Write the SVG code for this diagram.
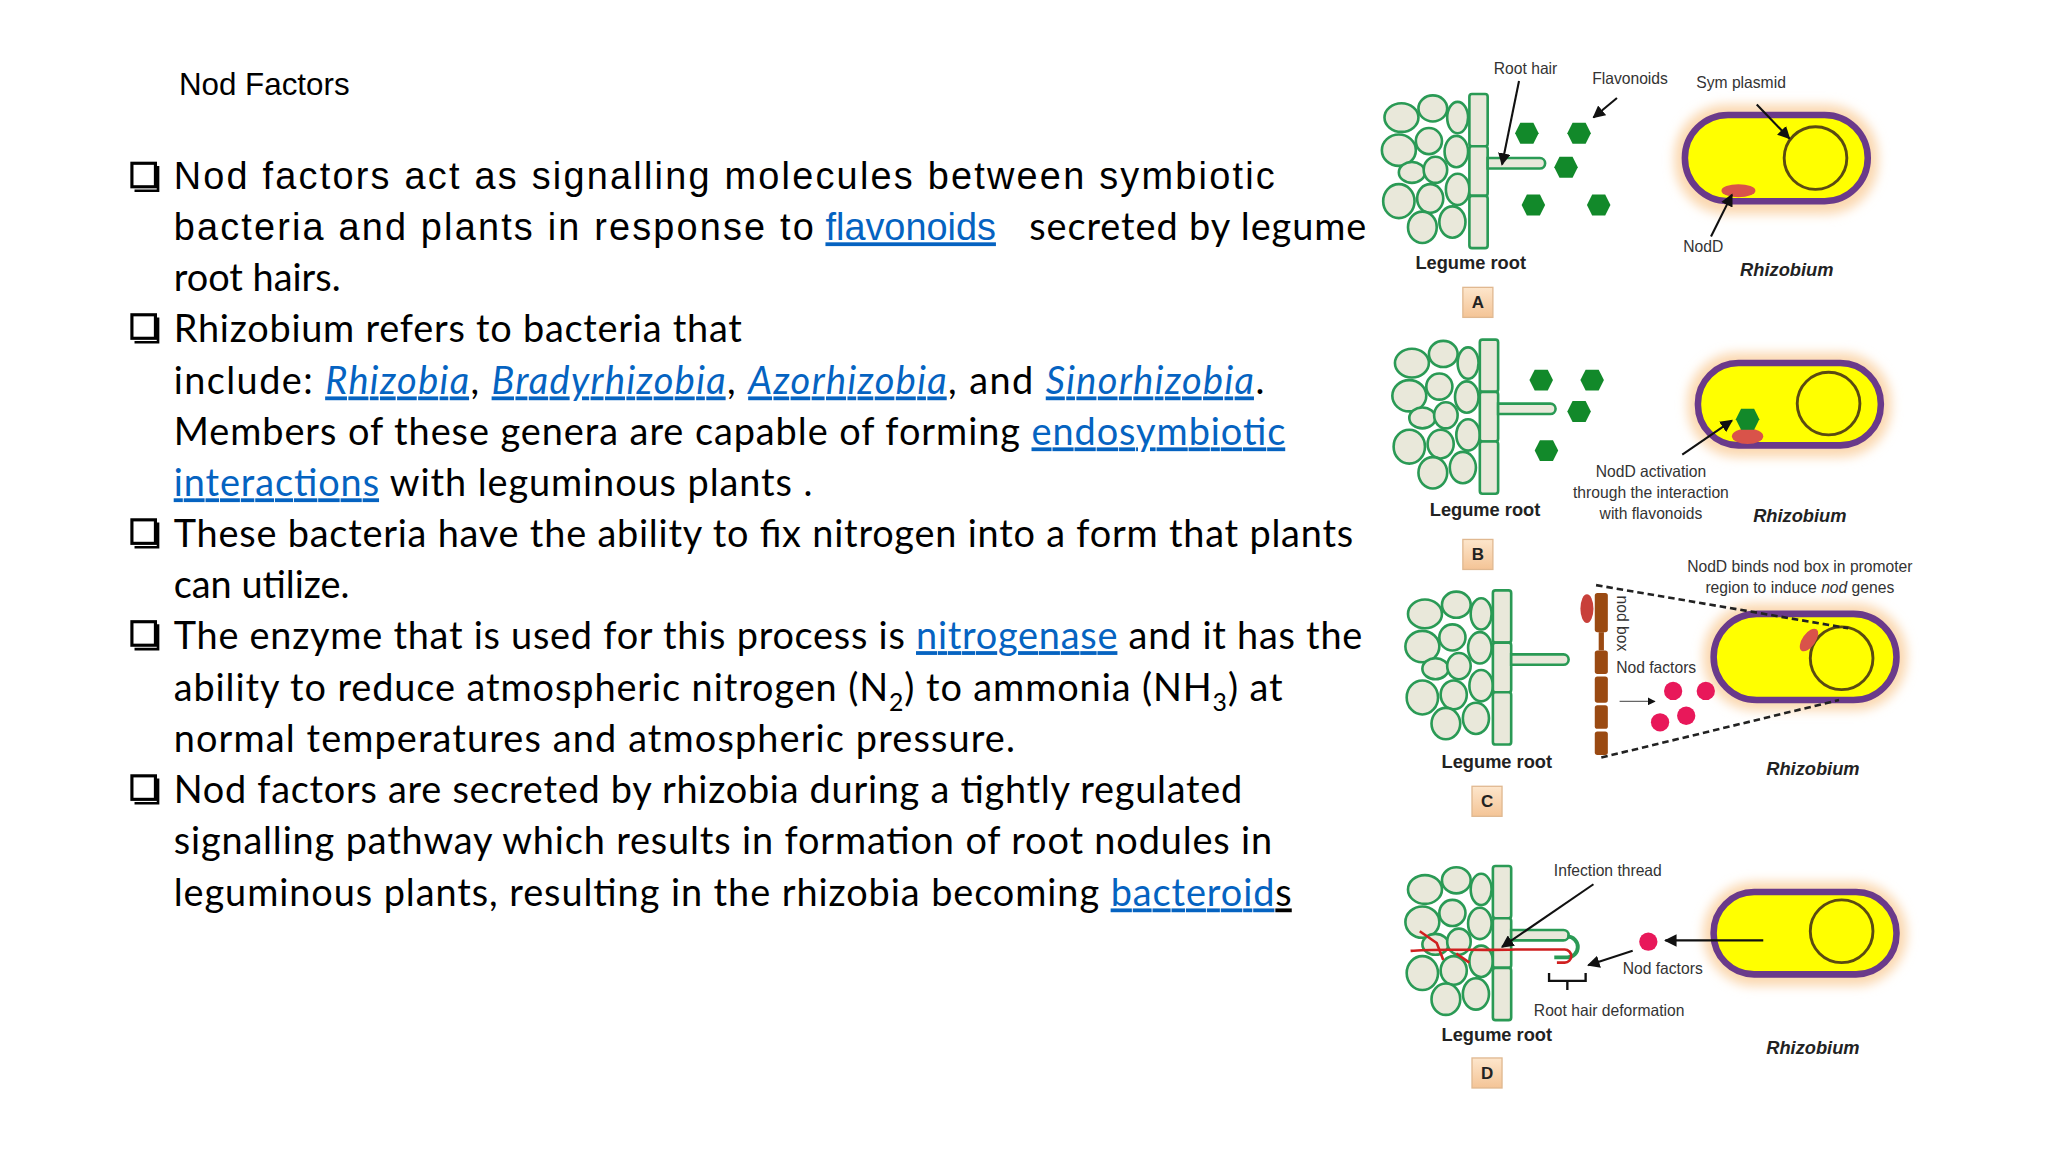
<svg xmlns="http://www.w3.org/2000/svg" xmlns:xlink="http://www.w3.org/1999/xlink" width="2048" height="1152" viewBox="0 0 2048 1152">
<style>
.ar{font-family:"Liberation Sans",Arial,sans-serif;fill:#000}
.cb{font-family:Lato,"Liberation Sans",sans-serif;font-size:29px;fill:#000}
.lk{fill:#0563c1;text-decoration:underline}
.lab{font-family:"Liberation Sans",Arial,sans-serif;font-size:12px;fill:#333}
.lr{font-family:"Liberation Sans",Arial,sans-serif;font-size:14px;font-weight:bold;fill:#222}
.rz{font-family:"Liberation Sans",Arial,sans-serif;font-size:14px;font-weight:bold;font-style:italic;fill:#222}
.cell{fill:#e9e8da;stroke:#2a9a55;stroke-width:2}
.arw{stroke:#111;stroke-width:1.6;fill:none;marker-end:url(#ah)}
.cap{fill:#ffff00;stroke:#6a3a8a;stroke-width:5}
.glow{fill:#fbd8b0;filter:url(#bl)}
.pl{fill:none;stroke:#5a4a12;stroke-width:2.2}
.box{fill:url(#pg);stroke:#e0b890;stroke-width:1}
.bt{font-family:"Liberation Sans",Arial,sans-serif;font-size:13px;font-weight:bold;fill:#222;text-anchor:middle}
.cbx{fill:#fff;stroke:#000;stroke-width:2.4}
</style>
<defs>
<marker id="ah" viewBox="0 0 10 10" refX="9" refY="5" markerWidth="6" markerHeight="6" orient="auto"><path d="M0,0L10,5L0,10z" fill="#111"/></marker>
<filter id="bl" x="-20%" y="-30%" width="140%" height="160%"><feGaussianBlur stdDeviation="4"/></filter>
<linearGradient id="pg" x1="0" y1="0" x2="0" y2="1"><stop offset="0" stop-color="#fde6cc"/><stop offset="1" stop-color="#f4c496"/></linearGradient>
<g id="root">
<ellipse class="cell" cx="16" cy="20" rx="13" ry="11"/>
<ellipse class="cell" cx="40" cy="13" rx="11" ry="10"/>
<ellipse class="cell" cx="59" cy="20" rx="8" ry="12"/>
<ellipse class="cell" cx="14" cy="45" rx="13" ry="12"/>
<ellipse class="cell" cx="37" cy="38" rx="10" ry="10"/>
<ellipse class="cell" cx="58" cy="46" rx="9" ry="12"/>
<ellipse class="cell" cx="24" cy="62" rx="10" ry="8"/>
<ellipse class="cell" cx="42" cy="60" rx="9" ry="10"/>
<ellipse class="cell" cx="14" cy="84" rx="12" ry="13"/>
<ellipse class="cell" cx="38" cy="82" rx="10" ry="11"/>
<ellipse class="cell" cx="59" cy="75" rx="9" ry="12"/>
<ellipse class="cell" cx="32" cy="104" rx="11" ry="12"/>
<ellipse class="cell" cx="55" cy="100" rx="10" ry="12"/>
<rect class="cell" x="68" y="2" width="14" height="40" rx="2"/>
<rect class="cell" x="68" y="42" width="14" height="38" rx="2"/>
<rect class="cell" x="68" y="80" width="14" height="40" rx="2"/>
<path class="cell" d="M82,51H122a4,4 0 0 1 0,8H82z"/>
</g>
<path id="hex" d="M-9,0L-5,-8L5,-8L9,0L5,8L-5,8z" fill="#12892a"/>
</defs>
<rect width="2048" height="1152" fill="#fff"/>
<g transform="scale(1.30612)">
<g id="text">
<text class="ar" x="137" y="73" font-size="24">Nod Factors</text>
<rect class="cbx" x="101" y="125" width="18" height="18"/><path d="M121,127V146H103" stroke="#000" stroke-width="2" fill="none"/>
<rect class="cbx" x="101" y="241" width="18" height="18"/><path d="M121,243V262H103" stroke="#000" stroke-width="2" fill="none"/>
<rect class="cbx" x="101" y="398" width="18" height="18"/><path d="M121,400V419H103" stroke="#000" stroke-width="2" fill="none"/>
<rect class="cbx" x="101" y="476" width="18" height="18"/><path d="M121,478V497H103" stroke="#000" stroke-width="2" fill="none"/>
<rect class="cbx" x="101" y="594" width="18" height="18"/><path d="M121,596V615H103" stroke="#000" stroke-width="2" fill="none"/>
<text class="ar" x="133" y="145" font-size="29" textLength="843">Nod factors act as signalling molecules between symbiotic</text>
<text class="ar" x="133" y="184" font-size="29" textLength="490">bacteria and plants in response to</text>
<text class="ar lk" x="632" y="184" font-size="29">flavonoids </text>
<text class="cb" x="788" y="184" textLength="258">secreted by legume</text>
<text class="cb" x="133" y="223">root hairs.</text>
<text class="cb" x="133" y="262" textLength="435">Rhizobium refers to bacteria that</text>
<text class="cb" x="133" y="302" textLength="835">include: <tspan class="lk" font-style="italic">Rhizobia</tspan>, <tspan class="lk" font-style="italic">Bradyrhizobia</tspan>, <tspan class="lk" font-style="italic">Azorhizobia</tspan>, and <tspan class="lk" font-style="italic">Sinorhizobia</tspan>.</text>
<text class="cb" x="133" y="341" textLength="851">Members of these genera are capable of forming <tspan class="lk">endosymbiotic</tspan></text>
<text class="cb" x="133" y="380" textLength="489"><tspan class="lk">interactions</tspan> with leguminous plants .</text>
<text class="cb" x="133" y="419" textLength="903">These bacteria have the ability to fix nitrogen into a form that plants</text>
<text class="cb" x="133" y="458">can utilize.</text>
<text class="cb" x="133" y="497" textLength="910">The enzyme that is used for this process is <tspan class="lk">nitrogenase</tspan> and it has the</text>
<text class="cb" x="133" y="537" textLength="849">ability to reduce atmospheric nitrogen (N<tspan font-size="19" dy="7">2</tspan><tspan dy="-7">) to ammonia (NH</tspan><tspan font-size="19" dy="7">3</tspan><tspan dy="-7">) at</tspan></text>
<text class="cb" x="133" y="576" textLength="644">normal temperatures and atmospheric pressure.</text>
<text class="cb" x="133" y="615" textLength="818">Nod factors are secreted by rhizobia during a tightly regulated</text>
<text class="cb" x="133" y="654" textLength="841">signalling pathway which results in formation of root nodules in</text>
<text class="cb" x="133" y="694" textLength="856">leguminous plants, resulting in the rhizobia becoming <tspan class="lk">bacteroid</tspan><tspan text-decoration="underline">s</tspan></text>
</g>
<g id="panelA">
<use href="#root" x="1057" y="70"/>
<use href="#hex" x="1169" y="102"/><use href="#hex" x="1209" y="102"/><use href="#hex" x="1199" y="128"/><use href="#hex" x="1174" y="157"/><use href="#hex" x="1224" y="157"/>
<rect class="glow" x="1282" y="80" width="156" height="84" rx="40"/>
<rect class="cap" x="1290" y="88" width="140" height="66" rx="33"/>
<circle class="pl" cx="1390" cy="121" r="24"/>
<ellipse cx="1331" cy="146" rx="13" ry="5" fill="#d9534a"/>
<text class="lab" x="1168" y="57" text-anchor="middle">Root hair</text>
<text class="lab" x="1248" y="64" text-anchor="middle">Flavonoids</text>
<text class="lab" x="1333" y="67" text-anchor="middle">Sym plasmid</text>
<text class="lab" x="1304" y="193" text-anchor="middle">NodD</text>
<text class="lr" x="1126" y="206" text-anchor="middle">Legume root</text>
<text class="rz" x="1368" y="211" text-anchor="middle">Rhizobium</text>
<rect class="box" x="1120" y="220" width="23" height="23"/><text class="bt" x="1131.5" y="236">A</text>
</g>
<g id="panelB">
<use href="#root" x="1065" y="258"/>
<use href="#hex" x="1180" y="291"/><use href="#hex" x="1219" y="291"/><use href="#hex" x="1209" y="315"/><use href="#hex" x="1184" y="345"/>
<rect class="glow" x="1292" y="270" width="156" height="80" rx="38"/>
<rect class="cap" x="1300" y="278" width="140" height="63" rx="31"/>
<circle class="pl" cx="1400" cy="309" r="24"/>
<ellipse cx="1338" cy="334" rx="12" ry="6" fill="#d9534a"/>
<use href="#hex" x="1338" y="321"/>
<text class="lab" x="1264" y="365" text-anchor="middle">NodD activation</text>
<text class="lab" x="1264" y="381" text-anchor="middle">through the interaction</text>
<text class="lab" x="1264" y="397" text-anchor="middle">with flavonoids</text>
<text class="lr" x="1137" y="395" text-anchor="middle">Legume root</text>
<text class="rz" x="1378" y="400" text-anchor="middle">Rhizobium</text>
<rect class="box" x="1120" y="413" width="23" height="23"/><text class="bt" x="1131.5" y="429">B</text>
</g>
<g id="panelC">
<use href="#root" x="1075" y="450"/>
<rect class="glow" x="1304" y="462" width="156" height="82" rx="40"/>
<rect class="cap" x="1312" y="470" width="140" height="66" rx="33"/>
<circle class="pl" cx="1410" cy="504" r="24"/>
<ellipse cx="1385" cy="490" rx="5" ry="10" fill="#d9534a" transform="rotate(35 1385 490)"/>
<g fill="#9a4a12">
<rect x="1221" y="454" width="10" height="30" rx="2"/>
<rect x="1224" y="484" width="4" height="14"/>
<rect x="1221" y="498" width="10" height="18" rx="2"/>
<rect x="1221" y="518" width="10" height="20" rx="2"/>
<rect x="1221" y="540" width="10" height="18" rx="2"/>
<rect x="1221" y="560" width="10" height="18" rx="2"/>
</g>
<ellipse cx="1215" cy="466" rx="5" ry="11" fill="#c8403a"/>
<text class="lab" transform="translate(1238,456) rotate(90)">nod box</text>
<text class="lab" x="1268" y="515" text-anchor="middle">Nod factors</text>
<g fill="#e8185a"><circle cx="1281" cy="529" r="7"/><circle cx="1306" cy="529" r="7"/><circle cx="1271" cy="553" r="7"/><circle cx="1291" cy="548" r="7"/></g>
<path d="M1240,537H1267" stroke="#666" stroke-width="1" marker-end="url(#ah)"/>
<path d="M1222,448L1415,481M1226,580L1408,536" stroke="#222" stroke-width="2" stroke-dasharray="5,3" fill="none"/>
<text class="lab" x="1378" y="438" text-anchor="middle">NodD binds nod box in promoter</text>
<text class="lab" x="1378" y="454" text-anchor="middle">region to induce <tspan font-style="italic">nod</tspan> genes</text>
<text class="lr" x="1146" y="588" text-anchor="middle">Legume root</text>
<text class="rz" x="1388" y="593" text-anchor="middle">Rhizobium</text>
<rect class="box" x="1127" y="602" width="23" height="23"/><text class="bt" x="1138.5" y="618">C</text>
</g>
<g id="panelD">
<use href="#root" x="1075" y="661"/>
<path d="M1200,717a8,8 0 0 1 0,16h-10" fill="none" stroke="#2a9a55" stroke-width="3"/>
<path d="M1080,728C1100,726 1130,728 1160,727L1198,727a5,5 0 0 1 0,10h-6" fill="none" stroke="#d02020" stroke-width="2"/>
<path d="M1087,713L1100,722L1105,735M1115,730L1125,737" fill="none" stroke="#d02020" stroke-width="2"/>
<rect class="glow" x="1304" y="675" width="156" height="80" rx="40"/>
<rect class="cap" x="1312" y="683" width="140" height="63" rx="31"/>
<circle class="pl" cx="1410" cy="713" r="24"/>
<circle cx="1262" cy="721" r="7" fill="#e8185a"/>
<text class="lab" x="1231" y="671" text-anchor="middle">Infection thread</text>
<text class="lab" x="1273" y="746" text-anchor="middle">Nod factors</text>
<text class="lab" x="1232" y="778" text-anchor="middle">Root hair deformation</text>
<path d="M1186,745v6h14v7M1200,751h14v-6" fill="none" stroke="#111" stroke-width="1.8"/>
<text class="lr" x="1146" y="797" text-anchor="middle">Legume root</text>
<text class="rz" x="1388" y="807" text-anchor="middle">Rhizobium</text>
<rect class="box" x="1127" y="810" width="23" height="23"/><text class="bt" x="1138.5" y="826">D</text>
</g>
<g id="connectors">
<path class="arw" d="M1163,62L1150,126"/>
<path class="arw" d="M1238,75L1220,90"/>
<path class="arw" d="M1345,80L1370,106"/>
<path class="arw" d="M1310,181L1326,149"/>
<path class="arw" d="M1288,348L1326,322"/>
<path class="arw" d="M1220,677L1150,725"/>
<path class="arw" d="M1350,720L1275,720"/>
<path class="arw" d="M1250,728L1216,739"/>
</g>
</g>
</svg>
